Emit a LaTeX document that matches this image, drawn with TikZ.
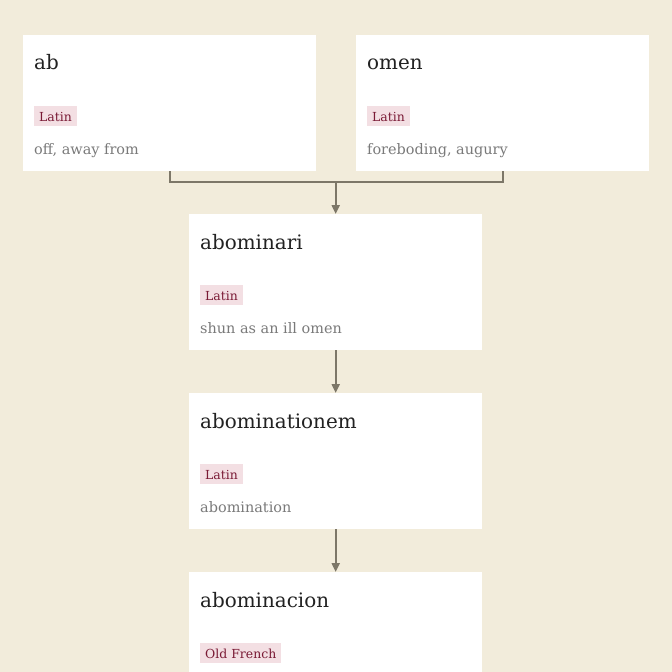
\documentclass[tikz,border=0pt]{standalone}
\usepackage{fontspec}
\setmainfont{DejaVu Serif}
\usetikzlibrary{arrows.meta,positioning}
\definecolor{paper}{HTML}{F2ECDB}
\definecolor{ink}{HTML}{222222}
\definecolor{tagbg}{HTML}{F3DFE3}
\definecolor{tagred}{HTML}{7A1A35}
\definecolor{glossgray}{HTML}{7A7A7A}
\definecolor{linkgray}{HTML}{7D7768}
\tikzset{
  card/.style={fill=white, anchor=north west, minimum width=293bp, minimum height=136bp, inner sep=0pt},
  word/.style={anchor=base west, inner sep=0pt, text=ink, font=\fontsize{20}{24}\selectfont},
  langtag/.style={anchor=base west, fill=tagbg, text=tagred, inner xsep=5bp, inner ysep=0pt,
    text height=15.5bp, text depth=5bp, font=\fontsize{12.5}{15}\selectfont},
  gloss/.style={anchor=base west, inner sep=0pt, text=glossgray, font=\fontsize{14.5}{17}\selectfont},
  link/.style={draw=linkgray, line width=2bp},
  linkarrow/.style={link, -{Triangle[length=9bp,width=8bp]}},
}
\begin{document}
\begin{tikzpicture}[x=1bp, y=-1bp]
  \fill[paper] (0,0) rectangle (672,672);
  \useasboundingbox (0,0) rectangle (672,672);
  % cards
  \node[card] (ab) at (23,35) {};
  \node[card] (omen) at (356,35) {};
  \node[card] (abominari) at (189,214) {};
  \node[card] (abominationem) at (189,393) {};
  \node[card] (abominacion) at (189,572) {};
  % ab
  \node[word] (abW) at ([shift={(11bp,-35bp)}]ab.north west) {ab};
  \node[langtag] (abL) at ([shift={(11bp,-86bp)}]ab.north west) {Latin};
  \node[gloss] (abG) at ([shift={(11bp,-119bp)}]ab.north west) {off, away from};
  % omen
  \node[word] (omenW) at ([shift={(11bp,-35bp)}]omen.north west) {omen};
  \node[langtag] (omenL) at ([shift={(11bp,-86bp)}]omen.north west) {Latin};
  \node[gloss] (omenG) at ([shift={(11bp,-119bp)}]omen.north west) {foreboding, augury};
  % abominari
  \node[word] (abominariW) at ([shift={(11bp,-35bp)}]abominari.north west) {abominari};
  \node[langtag] (abominariL) at ([shift={(11bp,-86bp)}]abominari.north west) {Latin};
  \node[gloss] (abominariG) at ([shift={(11bp,-119bp)}]abominari.north west) {shun as an ill omen};
  % abominationem
  \node[word] (abominationemW) at ([shift={(11bp,-35bp)}]abominationem.north west) {abominationem};
  \node[langtag] (abominationemL) at ([shift={(11bp,-86bp)}]abominationem.north west) {Latin};
  \node[gloss] (abominationemG) at ([shift={(11bp,-119bp)}]abominationem.north west) {abomination};
  % abominacion
  \node[word] (abominacionW) at ([shift={(11bp,-35bp)}]abominacion.north west) {abominacion};
  \node[langtag] (abominacionL) at ([shift={(11bp,-86bp)}]abominacion.north west) {Old French};
  % links
  \coordinate (merge) at (abominari.north |- 0,182);
  \draw[link] (ab.south) |- (merge) -| (omen.south);
  \draw[linkarrow] (merge) -- (abominari.north);
  \draw[linkarrow] (abominari.south) -- (abominationem.north);
  \draw[linkarrow] (abominationem.south) -- (abominacion.north);
\end{tikzpicture}
\end{document}
